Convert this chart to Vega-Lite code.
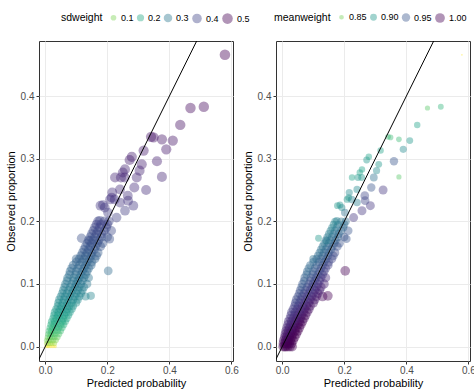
{
"$schema":"https://vega.github.io/schema/vega-lite/v6.json",
"padding":{"left":4,"top":11,"right":4,"bottom":4},
"background":"white",
"datasets":{
"diag":[{"pred":-0.05,"obs":-0.05},{"pred":0.62,"obs":0.62}],
"pts":[
{"pred":0.003,"obs":0,"sdweight":0,"meanweight":1},
{"pred":0.008,"obs":0,"sdweight":0,"meanweight":1},
{"pred":0.012,"obs":0,"sdweight":0,"meanweight":1},
{"pred":0.018,"obs":0,"sdweight":0,"meanweight":1},
{"pred":0.025,"obs":0,"sdweight":0,"meanweight":1},
{"pred":0.032,"obs":0,"sdweight":0,"meanweight":1},
{"pred":0.004,"obs":0.005,"sdweight":0.07,"meanweight":0.998},
{"pred":0.01,"obs":0.005,"sdweight":0.07,"meanweight":1},
{"pred":0.016,"obs":0.005,"sdweight":0.07,"meanweight":1},
{"pred":0.022,"obs":0.005,"sdweight":0.07,"meanweight":1},
{"pred":0.03,"obs":0.005,"sdweight":0.07,"meanweight":1},
{"pred":0.005,"obs":0.01,"sdweight":0.1,"meanweight":0.994},
{"pred":0.012,"obs":0.01,"sdweight":0.1,"meanweight":0.997},
{"pred":0.018,"obs":0.01,"sdweight":0.1,"meanweight":1},
{"pred":0.026,"obs":0.01,"sdweight":0.1,"meanweight":1},
{"pred":0.035,"obs":0.01,"sdweight":0.1,"meanweight":1},
{"pred":0.008,"obs":0.015,"sdweight":0.12,"meanweight":0.991},
{"pred":0.015,"obs":0.015,"sdweight":0.12,"meanweight":0.995},
{"pred":0.022,"obs":0.015,"sdweight":0.12,"meanweight":0.998},
{"pred":0.03,"obs":0.015,"sdweight":0.12,"meanweight":1},
{"pred":0.04,"obs":0.015,"sdweight":0.12,"meanweight":1},
{"pred":0.01,"obs":0.02,"sdweight":0.14,"meanweight":0.988},
{"pred":0.018,"obs":0.02,"sdweight":0.14,"meanweight":0.992},
{"pred":0.025,"obs":0.02,"sdweight":0.14,"meanweight":0.996},
{"pred":0.033,"obs":0.02,"sdweight":0.14,"meanweight":1},
{"pred":0.045,"obs":0.02,"sdweight":0.14,"meanweight":1},
{"pred":0.012,"obs":0.025,"sdweight":0.156,"meanweight":0.985},
{"pred":0.02,"obs":0.025,"sdweight":0.156,"meanweight":0.989},
{"pred":0.03,"obs":0.025,"sdweight":0.156,"meanweight":0.994},
{"pred":0.04,"obs":0.025,"sdweight":0.156,"meanweight":0.999},
{"pred":0.05,"obs":0.025,"sdweight":0.156,"meanweight":1},
{"pred":0.015,"obs":0.03,"sdweight":0.171,"meanweight":0.982},
{"pred":0.024,"obs":0.03,"sdweight":0.171,"meanweight":0.987},
{"pred":0.034,"obs":0.03,"sdweight":0.171,"meanweight":0.992},
{"pred":0.044,"obs":0.03,"sdweight":0.171,"meanweight":0.997},
{"pred":0.055,"obs":0.03,"sdweight":0.171,"meanweight":1},
{"pred":0.018,"obs":0.035,"sdweight":0.184,"meanweight":0.979},
{"pred":0.028,"obs":0.035,"sdweight":0.184,"meanweight":0.984},
{"pred":0.038,"obs":0.035,"sdweight":0.184,"meanweight":0.989},
{"pred":0.05,"obs":0.035,"sdweight":0.184,"meanweight":0.995},
{"pred":0.06,"obs":0.035,"sdweight":0.184,"meanweight":1},
{"pred":0.02,"obs":0.04,"sdweight":0.196,"meanweight":0.976},
{"pred":0.03,"obs":0.04,"sdweight":0.196,"meanweight":0.981},
{"pred":0.042,"obs":0.04,"sdweight":0.196,"meanweight":0.987},
{"pred":0.055,"obs":0.04,"sdweight":0.196,"meanweight":0.994},
{"pred":0.065,"obs":0.04,"sdweight":0.196,"meanweight":0.999},
{"pred":0.025,"obs":0.045,"sdweight":0.207,"meanweight":0.974},
{"pred":0.035,"obs":0.045,"sdweight":0.207,"meanweight":0.979},
{"pred":0.046,"obs":0.045,"sdweight":0.207,"meanweight":0.985},
{"pred":0.058,"obs":0.045,"sdweight":0.207,"meanweight":0.991},
{"pred":0.07,"obs":0.045,"sdweight":0.207,"meanweight":0.997},
{"pred":0.028,"obs":0.05,"sdweight":0.218,"meanweight":0.972},
{"pred":0.04,"obs":0.05,"sdweight":0.218,"meanweight":0.978},
{"pred":0.05,"obs":0.05,"sdweight":0.218,"meanweight":0.983},
{"pred":0.062,"obs":0.05,"sdweight":0.218,"meanweight":0.989},
{"pred":0.075,"obs":0.05,"sdweight":0.218,"meanweight":0.995},
{"pred":0.03,"obs":0.055,"sdweight":0.228,"meanweight":0.968},
{"pred":0.042,"obs":0.055,"sdweight":0.228,"meanweight":0.974},
{"pred":0.055,"obs":0.055,"sdweight":0.228,"meanweight":0.981},
{"pred":0.068,"obs":0.055,"sdweight":0.228,"meanweight":0.987},
{"pred":0.08,"obs":0.055,"sdweight":0.228,"meanweight":0.993},
{"pred":0.035,"obs":0.06,"sdweight":0.237,"meanweight":0.967},
{"pred":0.048,"obs":0.06,"sdweight":0.237,"meanweight":0.973},
{"pred":0.06,"obs":0.06,"sdweight":0.237,"meanweight":0.979},
{"pred":0.072,"obs":0.06,"sdweight":0.237,"meanweight":0.985},
{"pred":0.086,"obs":0.06,"sdweight":0.237,"meanweight":0.992},
{"pred":0.04,"obs":0.065,"sdweight":0.247,"meanweight":0.965},
{"pred":0.052,"obs":0.065,"sdweight":0.247,"meanweight":0.971},
{"pred":0.065,"obs":0.065,"sdweight":0.247,"meanweight":0.977},
{"pred":0.078,"obs":0.065,"sdweight":0.247,"meanweight":0.984},
{"pred":0.09,"obs":0.065,"sdweight":0.247,"meanweight":0.99},
{"pred":0.042,"obs":0.07,"sdweight":0.255,"meanweight":0.962},
{"pred":0.056,"obs":0.07,"sdweight":0.255,"meanweight":0.969},
{"pred":0.07,"obs":0.07,"sdweight":0.255,"meanweight":0.976},
{"pred":0.085,"obs":0.07,"sdweight":0.255,"meanweight":0.983},
{"pred":0.1,"obs":0.07,"sdweight":0.255,"meanweight":0.991},
{"pred":0.045,"obs":0.075,"sdweight":0.263,"meanweight":0.959},
{"pred":0.06,"obs":0.075,"sdweight":0.263,"meanweight":0.966},
{"pred":0.075,"obs":0.075,"sdweight":0.263,"meanweight":0.974},
{"pred":0.09,"obs":0.075,"sdweight":0.263,"meanweight":0.981},
{"pred":0.105,"obs":0.075,"sdweight":0.263,"meanweight":0.989},
{"pred":0.05,"obs":0.08,"sdweight":0.271,"meanweight":0.957},
{"pred":0.064,"obs":0.08,"sdweight":0.271,"meanweight":0.964},
{"pred":0.08,"obs":0.08,"sdweight":0.271,"meanweight":0.972},
{"pred":0.095,"obs":0.08,"sdweight":0.271,"meanweight":0.98},
{"pred":0.11,"obs":0.08,"sdweight":0.271,"meanweight":0.987},
{"pred":0.13,"obs":0.08,"sdweight":0.271,"meanweight":0.997},
{"pred":0.147,"obs":0.081,"sdweight":0.273,"meanweight":1},
{"pred":0.055,"obs":0.085,"sdweight":0.279,"meanweight":0.955},
{"pred":0.07,"obs":0.085,"sdweight":0.279,"meanweight":0.963},
{"pred":0.085,"obs":0.085,"sdweight":0.279,"meanweight":0.97},
{"pred":0.1,"obs":0.085,"sdweight":0.279,"meanweight":0.978},
{"pred":0.115,"obs":0.085,"sdweight":0.279,"meanweight":0.985},
{"pred":0.058,"obs":0.09,"sdweight":0.286,"meanweight":0.953},
{"pred":0.075,"obs":0.09,"sdweight":0.286,"meanweight":0.961},
{"pred":0.09,"obs":0.09,"sdweight":0.286,"meanweight":0.969},
{"pred":0.105,"obs":0.09,"sdweight":0.286,"meanweight":0.976},
{"pred":0.12,"obs":0.09,"sdweight":0.286,"meanweight":0.984},
{"pred":0.062,"obs":0.095,"sdweight":0.293,"meanweight":0.95},
{"pred":0.08,"obs":0.095,"sdweight":0.293,"meanweight":0.959},
{"pred":0.096,"obs":0.095,"sdweight":0.293,"meanweight":0.967},
{"pred":0.11,"obs":0.095,"sdweight":0.293,"meanweight":0.974},
{"pred":0.125,"obs":0.095,"sdweight":0.293,"meanweight":0.982},
{"pred":0.065,"obs":0.1,"sdweight":0.3,"meanweight":0.948},
{"pred":0.085,"obs":0.1,"sdweight":0.3,"meanweight":0.958},
{"pred":0.1,"obs":0.1,"sdweight":0.3,"meanweight":0.965},
{"pred":0.115,"obs":0.1,"sdweight":0.3,"meanweight":0.973},
{"pred":0.135,"obs":0.1,"sdweight":0.3,"meanweight":0.983},
{"pred":0.07,"obs":0.105,"sdweight":0.307,"meanweight":0.946},
{"pred":0.09,"obs":0.105,"sdweight":0.307,"meanweight":0.956},
{"pred":0.105,"obs":0.105,"sdweight":0.307,"meanweight":0.963},
{"pred":0.12,"obs":0.105,"sdweight":0.307,"meanweight":0.971},
{"pred":0.072,"obs":0.11,"sdweight":0.313,"meanweight":0.943},
{"pred":0.092,"obs":0.11,"sdweight":0.313,"meanweight":0.953},
{"pred":0.11,"obs":0.11,"sdweight":0.313,"meanweight":0.962},
{"pred":0.125,"obs":0.11,"sdweight":0.313,"meanweight":0.969},
{"pred":0.14,"obs":0.11,"sdweight":0.313,"meanweight":0.977},
{"pred":0.078,"obs":0.115,"sdweight":0.319,"meanweight":0.941},
{"pred":0.098,"obs":0.115,"sdweight":0.319,"meanweight":0.951},
{"pred":0.115,"obs":0.115,"sdweight":0.319,"meanweight":0.96},
{"pred":0.13,"obs":0.115,"sdweight":0.319,"meanweight":0.967},
{"pred":0.08,"obs":0.12,"sdweight":0.325,"meanweight":0.938},
{"pred":0.1,"obs":0.12,"sdweight":0.325,"meanweight":0.948},
{"pred":0.12,"obs":0.12,"sdweight":0.325,"meanweight":0.958},
{"pred":0.135,"obs":0.12,"sdweight":0.325,"meanweight":0.966},
{"pred":0.203,"obs":0.121,"sdweight":0.326,"meanweight":1},
{"pred":0.085,"obs":0.125,"sdweight":0.331,"meanweight":0.936},
{"pred":0.105,"obs":0.125,"sdweight":0.331,"meanweight":0.946},
{"pred":0.125,"obs":0.125,"sdweight":0.331,"meanweight":0.956},
{"pred":0.14,"obs":0.125,"sdweight":0.331,"meanweight":0.964},
{"pred":0.09,"obs":0.13,"sdweight":0.336,"meanweight":0.935},
{"pred":0.11,"obs":0.13,"sdweight":0.336,"meanweight":0.945},
{"pred":0.13,"obs":0.13,"sdweight":0.336,"meanweight":0.955},
{"pred":0.148,"obs":0.13,"sdweight":0.336,"meanweight":0.964},
{"pred":0.1,"obs":0.135,"sdweight":0.342,"meanweight":0.935},
{"pred":0.118,"obs":0.135,"sdweight":0.342,"meanweight":0.944},
{"pred":0.135,"obs":0.135,"sdweight":0.342,"meanweight":0.953},
{"pred":0.15,"obs":0.135,"sdweight":0.342,"meanweight":0.96},
{"pred":0.1,"obs":0.14,"sdweight":0.347,"meanweight":0.931},
{"pred":0.11,"obs":0.14,"sdweight":0.347,"meanweight":0.936},
{"pred":0.125,"obs":0.14,"sdweight":0.347,"meanweight":0.944},
{"pred":0.142,"obs":0.14,"sdweight":0.347,"meanweight":0.952},
{"pred":0.16,"obs":0.14,"sdweight":0.347,"meanweight":0.961},
{"pred":0.115,"obs":0.145,"sdweight":0.352,"meanweight":0.934},
{"pred":0.13,"obs":0.145,"sdweight":0.352,"meanweight":0.942},
{"pred":0.148,"obs":0.145,"sdweight":0.352,"meanweight":0.951},
{"pred":0.165,"obs":0.145,"sdweight":0.352,"meanweight":0.959},
{"pred":0.12,"obs":0.15,"sdweight":0.357,"meanweight":0.933},
{"pred":0.135,"obs":0.15,"sdweight":0.357,"meanweight":0.94},
{"pred":0.15,"obs":0.15,"sdweight":0.357,"meanweight":0.948},
{"pred":0.17,"obs":0.15,"sdweight":0.357,"meanweight":0.958},
{"pred":0.125,"obs":0.155,"sdweight":0.362,"meanweight":0.931},
{"pred":0.14,"obs":0.155,"sdweight":0.362,"meanweight":0.938},
{"pred":0.158,"obs":0.155,"sdweight":0.362,"meanweight":0.947},
{"pred":0.13,"obs":0.16,"sdweight":0.367,"meanweight":0.929},
{"pred":0.145,"obs":0.16,"sdweight":0.367,"meanweight":0.937},
{"pred":0.162,"obs":0.16,"sdweight":0.367,"meanweight":0.945},
{"pred":0.178,"obs":0.16,"sdweight":0.367,"meanweight":0.953},
{"pred":0.135,"obs":0.165,"sdweight":0.371,"meanweight":0.927},
{"pred":0.15,"obs":0.165,"sdweight":0.371,"meanweight":0.935},
{"pred":0.168,"obs":0.165,"sdweight":0.371,"meanweight":0.944},
{"pred":0.185,"obs":0.165,"sdweight":0.371,"meanweight":0.952},
{"pred":0.117,"obs":0.173,"sdweight":0.378,"meanweight":0.9},
{"pred":0.14,"obs":0.17,"sdweight":0.376,"meanweight":0.926},
{"pred":0.155,"obs":0.17,"sdweight":0.376,"meanweight":0.933},
{"pred":0.172,"obs":0.17,"sdweight":0.376,"meanweight":0.942},
{"pred":0.143,"obs":0.169,"sdweight":0.375,"meanweight":0.92},
{"pred":0.207,"obs":0.172,"sdweight":0.377,"meanweight":0.95},
{"pred":0.145,"obs":0.175,"sdweight":0.38,"meanweight":0.924},
{"pred":0.16,"obs":0.175,"sdweight":0.38,"meanweight":0.931},
{"pred":0.18,"obs":0.175,"sdweight":0.38,"meanweight":0.941},
{"pred":0.2,"obs":0.175,"sdweight":0.38,"meanweight":0.951},
{"pred":0.15,"obs":0.18,"sdweight":0.384,"meanweight":0.922},
{"pred":0.165,"obs":0.18,"sdweight":0.384,"meanweight":0.93},
{"pred":0.182,"obs":0.18,"sdweight":0.384,"meanweight":0.938},
{"pred":0.155,"obs":0.185,"sdweight":0.388,"meanweight":0.92},
{"pred":0.17,"obs":0.185,"sdweight":0.388,"meanweight":0.928},
{"pred":0.19,"obs":0.185,"sdweight":0.388,"meanweight":0.938},
{"pred":0.213,"obs":0.185,"sdweight":0.388,"meanweight":0.95},
{"pred":0.16,"obs":0.19,"sdweight":0.392,"meanweight":0.918},
{"pred":0.175,"obs":0.19,"sdweight":0.392,"meanweight":0.926},
{"pred":0.197,"obs":0.19,"sdweight":0.392,"meanweight":0.935},
{"pred":0.165,"obs":0.195,"sdweight":0.396,"meanweight":0.917},
{"pred":0.18,"obs":0.195,"sdweight":0.396,"meanweight":0.924},
{"pred":0.2,"obs":0.195,"sdweight":0.396,"meanweight":0.934},
{"pred":0.17,"obs":0.2,"sdweight":0.4,"meanweight":0.915},
{"pred":0.176,"obs":0.201,"sdweight":0.4,"meanweight":0.918},
{"pred":0.19,"obs":0.2,"sdweight":0.4,"meanweight":0.925},
{"pred":0.205,"obs":0.2,"sdweight":0.4,"meanweight":0.933},
{"pred":0.23,"obs":0.206,"sdweight":0.404,"meanweight":0.97},
{"pred":0.202,"obs":0.214,"sdweight":0.41,"meanweight":0.93},
{"pred":0.257,"obs":0.217,"sdweight":0.412,"meanweight":0.97},
{"pred":0.192,"obs":0.222,"sdweight":0.416,"meanweight":0.91},
{"pred":0.178,"obs":0.225,"sdweight":0.417,"meanweight":0.9},
{"pred":0.186,"obs":0.226,"sdweight":0.418,"meanweight":0.905},
{"pred":0.284,"obs":0.225,"sdweight":0.417,"meanweight":0.97},
{"pred":0.241,"obs":0.23,"sdweight":0.421,"meanweight":0.92},
{"pred":0.267,"obs":0.233,"sdweight":0.423,"meanweight":0.96},
{"pred":0.209,"obs":0.235,"sdweight":0.424,"meanweight":0.9},
{"pred":0.224,"obs":0.235,"sdweight":0.424,"meanweight":0.92},
{"pred":0.214,"obs":0.238,"sdweight":0.426,"meanweight":0.9},
{"pred":0.266,"obs":0.241,"sdweight":0.428,"meanweight":0.96},
{"pred":0.216,"obs":0.246,"sdweight":0.431,"meanweight":0.91},
{"pred":0.325,"obs":0.25,"sdweight":0.433,"meanweight":0.97},
{"pred":0.241,"obs":0.251,"sdweight":0.434,"meanweight":0.91},
{"pred":0.287,"obs":0.254,"sdweight":0.435,"meanweight":0.95},
{"pred":0.225,"obs":0.27,"sdweight":0.444,"meanweight":0.89},
{"pred":0.244,"obs":0.27,"sdweight":0.444,"meanweight":0.9},
{"pred":0.256,"obs":0.27,"sdweight":0.444,"meanweight":0.9},
{"pred":0.295,"obs":0.27,"sdweight":0.444,"meanweight":0.93},
{"pred":0.376,"obs":0.271,"sdweight":0.444,"meanweight":0.86},
{"pred":0.25,"obs":0.278,"sdweight":0.448,"meanweight":0.89},
{"pred":0.304,"obs":0.281,"sdweight":0.449,"meanweight":0.91},
{"pred":0.257,"obs":0.283,"sdweight":0.45,"meanweight":0.89},
{"pred":0.311,"obs":0.291,"sdweight":0.454,"meanweight":0.9},
{"pred":0.36,"obs":0.296,"sdweight":0.456,"meanweight":0.95},
{"pred":0.272,"obs":0.298,"sdweight":0.457,"meanweight":0.9},
{"pred":0.279,"obs":0.303,"sdweight":0.46,"meanweight":0.89},
{"pred":0.317,"obs":0.313,"sdweight":0.464,"meanweight":0.89},
{"pred":0.39,"obs":0.315,"sdweight":0.465,"meanweight":0.91},
{"pred":0.411,"obs":0.329,"sdweight":0.47,"meanweight":0.9},
{"pred":0.376,"obs":0.331,"sdweight":0.471,"meanweight":0.87},
{"pred":0.349,"obs":0.334,"sdweight":0.472,"meanweight":0.87},
{"pred":0.341,"obs":0.335,"sdweight":0.472,"meanweight":0.87},
{"pred":0.435,"obs":0.354,"sdweight":0.478,"meanweight":0.89},
{"pred":0.468,"obs":0.381,"sdweight":0.486,"meanweight":0.86},
{"pred":0.511,"obs":0.383,"sdweight":0.486,"meanweight":0.875},
{"pred":0.579,"obs":0.466,"sdweight":0.499,"meanweight":0.81}
]},
"hconcat":[
{"width":194,"height":320,
 "layer":[
  {"data":{"name":"pts"},"mark":{"type":"circle","opacity":0.42},
   "encoding":{
    "x":{"field":"pred","type":"quantitative","scale":{"domain":[-0.02,0.605],"nice":false,"zero":false},
         "axis":{"title":"Predicted probability","values":[0,0.1,0.2,0.3,0.4,0.5,0.6],"labelPadding":1,"titlePadding":2,"labelExpr":"round(datum.value*10)%2===0 ? format(datum.value,'.1f') : ''","tickOpacity":{"condition":{"test":"round(datum.value*10)%2===0","value":1},"value":0},"gridColor":{"condition":{"test":"round(datum.value*10)%2===0","value":"#ebebeb"},"value":"#f5f5f5"}}},
    "y":{"field":"obs","type":"quantitative","scale":{"domain":[-0.023,0.488],"nice":false,"zero":false},
         "axis":{"title":"Observed proportion","values":[0,0.05,0.1,0.15,0.2,0.25,0.3,0.35,0.4,0.45],"labelExpr":"round(datum.value*20)%2===0 ? format(datum.value,'.1f') : ''","tickOpacity":{"condition":{"test":"round(datum.value*20)%2===0","value":1},"value":0},"gridColor":{"condition":{"test":"round(datum.value*20)%2===0","value":"#ebebeb"},"value":"#f5f5f5"}}},
    "color":{"field":"sdweight","type":"quantitative","scale":{"scheme":"viridis","reverse":true,"domain":[0,0.5]},
             "legend":{"type":"symbol","title":"sdweight","values":[0.1,0.2,0.3,0.4,0.5],"format":".1f","orient":"none","legendX":22,"legendY":-29}},
    "size":{"field":"sdweight","type":"quantitative","scale":{"domain":[0,0.5],"range":[12,112]},
             "legend":{"title":"sdweight","values":[0.1,0.2,0.3,0.4,0.5],"format":".1f","orient":"none","legendX":22,"legendY":-29}}
   }},
  {"data":{"name":"diag"},"mark":{"type":"line","color":"black","strokeWidth":1,"clip":true},
   "encoding":{"x":{"field":"pred","type":"quantitative"},"y":{"field":"obs","type":"quantitative"}}}
 ]},
{"width":194,"height":320,
 "layer":[
  {"data":{"name":"pts"},"mark":{"type":"circle","opacity":0.42},
   "encoding":{
    "x":{"field":"pred","type":"quantitative","scale":{"domain":[-0.02,0.605],"nice":false,"zero":false},
         "axis":{"title":"Predicted probability","values":[0,0.1,0.2,0.3,0.4,0.5,0.6],"labelPadding":1,"titlePadding":2,"labelExpr":"round(datum.value*10)%2===0 ? format(datum.value,'.1f') : ''","tickOpacity":{"condition":{"test":"round(datum.value*10)%2===0","value":1},"value":0},"gridColor":{"condition":{"test":"round(datum.value*10)%2===0","value":"#ebebeb"},"value":"#f5f5f5"}}},
    "y":{"field":"obs","type":"quantitative","scale":{"domain":[-0.023,0.488],"nice":false,"zero":false},
         "axis":{"title":"Observed proportion","values":[0,0.05,0.1,0.15,0.2,0.25,0.3,0.35,0.4,0.45],"labelExpr":"round(datum.value*20)%2===0 ? format(datum.value,'.1f') : ''","tickOpacity":{"condition":{"test":"round(datum.value*20)%2===0","value":1},"value":0},"gridColor":{"condition":{"test":"round(datum.value*20)%2===0","value":"#ebebeb"},"value":"#f5f5f5"}}},
    "color":{"field":"meanweight","type":"quantitative","scale":{"scheme":"viridis","reverse":true,"domain":[0.81,1.0]},
             "legend":{"type":"symbol","title":"meanweight","values":[0.85,0.9,0.95,1.0],"format":".2f","orient":"none","legendX":-2,"legendY":-29}},
    "size":{"field":"meanweight","type":"quantitative","scale":{"domain":[0.81,1.0],"range":[3,95]},
             "legend":{"title":"meanweight","values":[0.85,0.9,0.95,1.0],"format":".2f","orient":"none","legendX":-2,"legendY":-29}}
   }},
  {"data":{"name":"diag"},"mark":{"type":"line","color":"black","strokeWidth":1,"clip":true},
   "encoding":{"x":{"field":"pred","type":"quantitative"},"y":{"field":"obs","type":"quantitative"}}}
 ]}
],
"spacing":43,
"bounds":"flush",
"resolve":{"scale":{"color":"independent","size":"independent","x":"independent","y":"independent"},"legend":{"color":"independent","size":"independent"}},
"config":{
 "font":"Liberation Sans",
 "view":{"stroke":"#333333","strokeWidth":1},
 "axis":{"domain":false,"labelFontSize":10,"labelColor":"#4d4d4d","titleFontSize":11,"titleFontWeight":"normal","titleColor":"#000000","tickColor":"#333333","tickSize":3,"labelPadding":2,"titlePadding":4,"gridWidth":1},
 "legend":{"direction":"horizontal","titleOrient":"left","titleFontSize":10.5,"titleFontWeight":"normal","titleColor":"#000000","labelFontSize":9,"labelColor":"#000000","titlePadding":6,"labelOffset":3,"columnPadding":2,"titleAnchor":"middle","titleBaseline":"middle"}
}
}
